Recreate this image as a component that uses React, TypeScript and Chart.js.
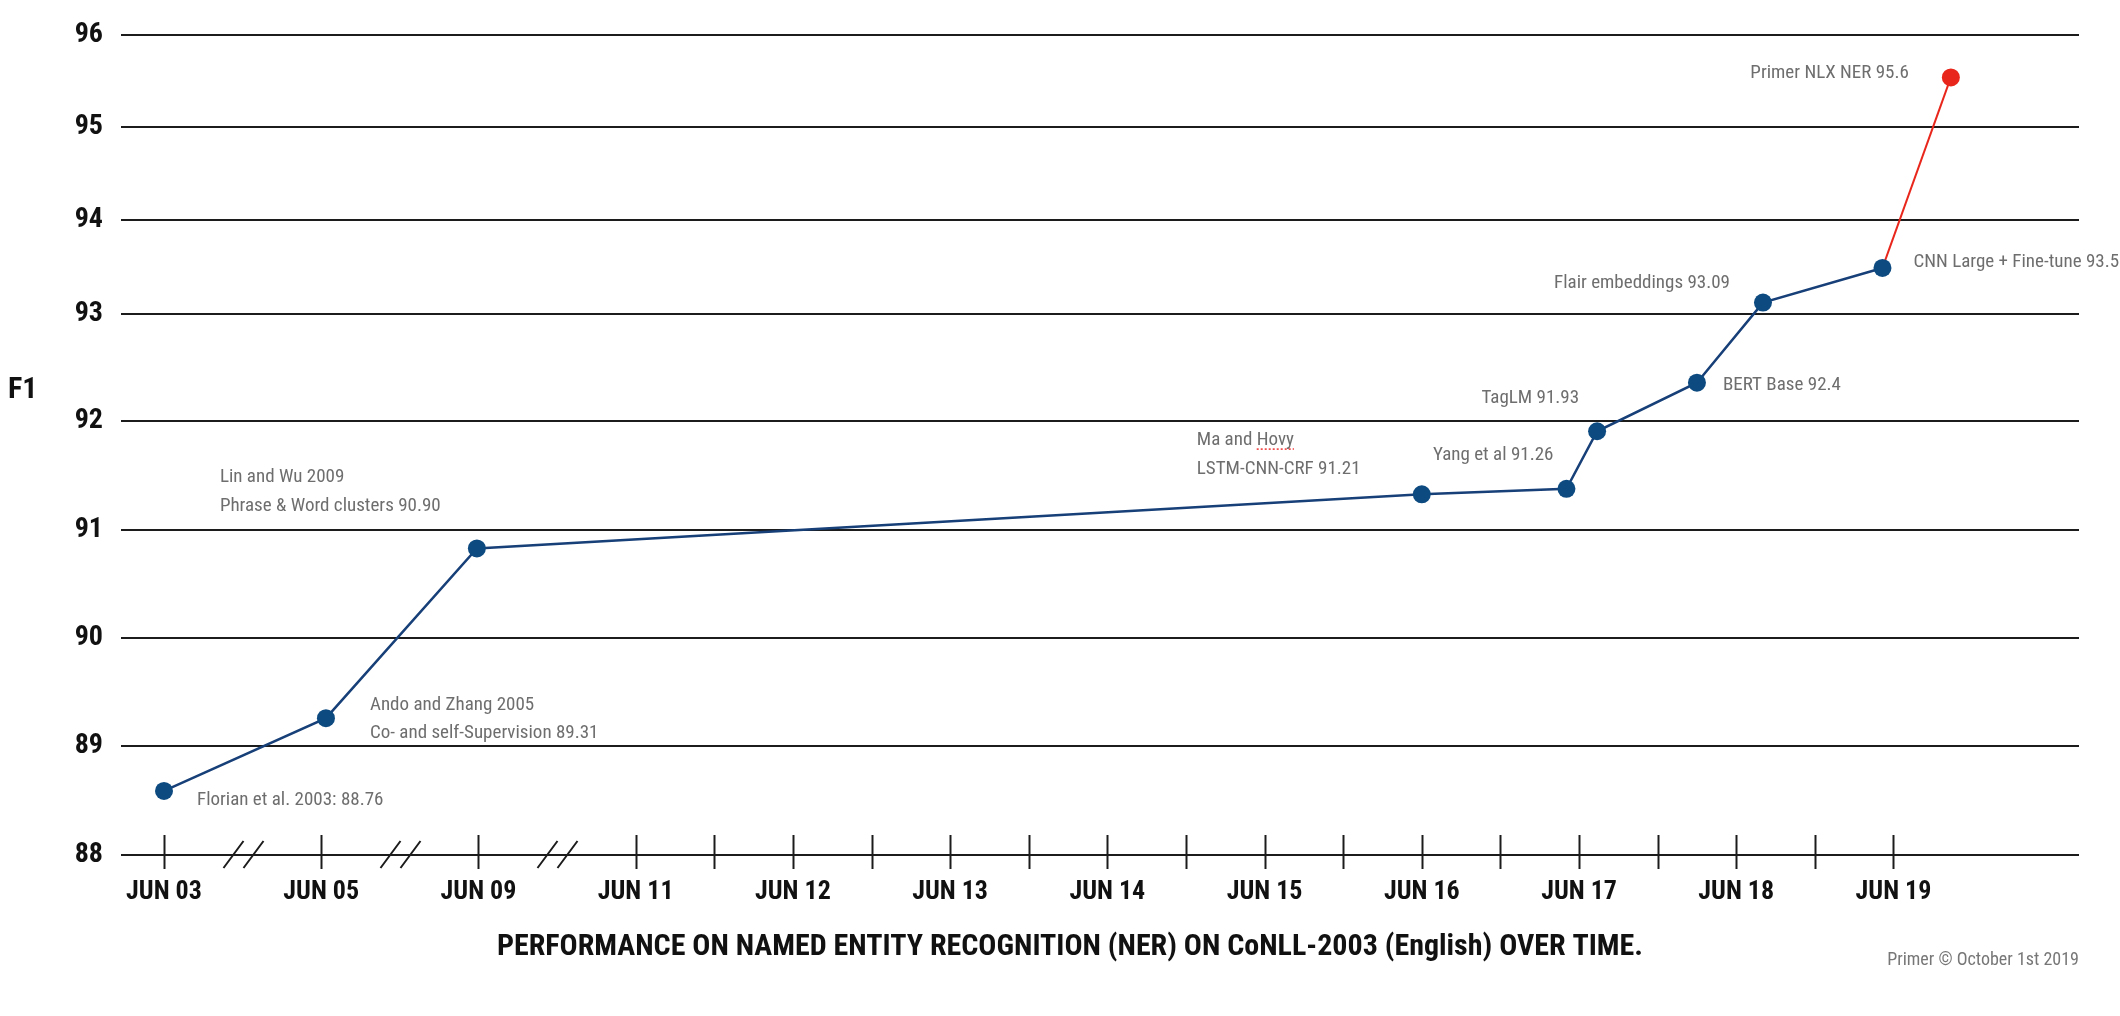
import React, { useEffect, useRef } from 'react';
import { Chart, registerables, LinearScale } from 'chart.js';

// ---------- data ----------
const Y_TICKS = [88, 89, 90, 91, 92, 93, 94, 95, 96];
// relative height of each 1-point band (the source axis is drawn unevenly)
const Y_BAND_SIZES = [109, 109, 108, 109, 108, 94, 93, 93];

// x axis: half-year steps on a compressed timeline, JUN 03 = 0
const X_MIN = -0.547;
const X_MAX = 24.36;
const X_TICK_INDEX = [0, 1, 2, 3, 4, 5, 6, 7, 8, 9, 10, 11, 12, 13, 14, 15, 16, 17, 18, 19, 20, 21, 22];
const X_BREAK_INDEX = [1, 3, 5];
const X_LABEL_INDEX = [0, 2, 4, 6, 8, 10, 12, 14, 16, 18, 20, 22];
const X_LABELS = ['JUN 03', 'JUN 05', 'JUN 09', 'JUN 11', 'JUN 12', 'JUN 13', 'JUN 14', 'JUN 15', 'JUN 16', 'JUN 17', 'JUN 18', 'JUN 19'];

const SOTA_X = [0, 2.06, 3.98, 16.0, 17.84, 18.23, 19.5, 20.34, 21.86];
const SOTA_F1 = [88.59, 89.26, 90.83, 91.33, 91.38, 91.91, 92.36, 93.12, 93.49];
const SOTA_LABELS = [
  ['Florian et al. 2003: 88.76'],
  ['Ando and Zhang 2005', 'Co- and self-Supervision 89.31'],
  ['Lin and Wu 2009', 'Phrase & Word clusters 90.90'],
  ['Ma and Hovy', 'LSTM-CNN-CRF 91.21'],
  ['Yang et al 91.26'],
  ['TagLM 91.93'],
  ['BERT Base 92.4'],
  ['Flair embeddings 93.09'],
  ['CNN Large + Fine-tune 93.5'],
];
const PRIMER_X = 22.73;
const PRIMER_F1 = 95.54;
const PRIMER_LABEL = 'Primer NLX NER 95.6';

const Y_TITLE = 'F1';
const CHART_TITLE = 'PERFORMANCE ON NAMED ENTITY RECOGNITION (NER) ON CoNLL-2003 (English) OVER TIME.';
const CREDIT = 'Primer \u00A9 October 1st 2019';

// ---------- layout / style ----------
const LABEL_LAYOUT: { dx: number; dy: number; align: CanvasTextAlign }[] = [
  { dx: 33, dy: 7, align: 'left' },
  { dx: 44, dy: -15, align: 'left' },
  { dx: -257, dy: -73, align: 'left' },
  { dx: -225, dy: -56, align: 'left' },
  { dx: -13, dy: -36, align: 'right' },
  { dx: -18, dy: -35, align: 'right' },
  { dx: 26, dy: 0, align: 'left' },
  { dx: -33, dy: -21, align: 'right' },
  { dx: 31, dy: -8, align: 'left' },
];
const PRIMER_LAYOUT = { dx: -42, dy: -6, align: 'right' as CanvasTextAlign };

const FONT = "'Liberation Sans Narrow', 'Roboto Condensed', 'DejaVu Sans Condensed', 'Liberation Sans', sans-serif";
const BLUE_LINE = '#173f78';
const BLUE_POINT = '#0d4a80';
const RED = '#e8261b';
const GRID = '#1c1c1c';
const NOTE = '#6e6e6e';

// ---------- banded (piecewise-linear) value scale ----------
function valueToDecimal(v: number): number {
  const total = Y_BAND_SIZES.reduce((a, b) => a + b, 0);
  let acc = 0;
  for (let i = 0; i < Y_BAND_SIZES.length; i++) {
    const a = Y_TICKS[i];
    const b = Y_TICKS[i + 1];
    if (v <= b || i === Y_BAND_SIZES.length - 1) {
      acc += ((v - a) * Y_BAND_SIZES[i]) / (b - a);
      return acc / total;
    }
    acc += Y_BAND_SIZES[i];
  }
  return acc / total;
}
function decimalToValue(d: number): number {
  const total = Y_BAND_SIZES.reduce((a, b) => a + b, 0);
  let t = d * total;
  for (let i = 0; i < Y_BAND_SIZES.length; i++) {
    if (t <= Y_BAND_SIZES[i] || i === Y_BAND_SIZES.length - 1) {
      return Y_TICKS[i] + (t / Y_BAND_SIZES[i]) * (Y_TICKS[i + 1] - Y_TICKS[i]);
    }
    t -= Y_BAND_SIZES[i];
  }
  return Y_TICKS[Y_TICKS.length - 1];
}

class BandedScale extends LinearScale {
  static id = 'banded';
  static defaults = LinearScale.defaults;
  getPixelForValue(value: number) {
    if (value === null || value === undefined || isNaN(value)) return NaN;
    return this.getPixelForDecimal(valueToDecimal(value));
  }
  getValueForPixel(pixel: number) {
    return decimalToValue(this.getDecimalForPixel(pixel));
  }
}

Chart.register(...registerables, BandedScale as any);

const decor = {
  id: 'decor',
  afterDraw(chart: any) {
    const { ctx, chartArea } = chart;
    const x = chart.scales.x;
    const y = chart.scales.y;
    const axisY = y.getPixelForValue(Y_TICKS[0]);
    ctx.save();

    // tick marks and axis breaks
    ctx.strokeStyle = GRID;
    ctx.lineWidth = 2;
    X_TICK_INDEX.forEach((k) => {
      const px = Math.round(x.getPixelForValue(k)) + 0.5;
      ctx.beginPath();
      if (X_BREAK_INDEX.includes(k)) {
        for (const off of [-10, 10]) {
          ctx.moveTo(px + off - 10, axisY + 13);
          ctx.lineTo(px + off + 10, axisY - 14);
        }
      } else {
        ctx.moveTo(px, axisY - 20);
        ctx.lineTo(px, axisY + 14);
      }
      ctx.stroke();
    });

    // point annotations
    const noteSize = 19;
    ctx.font = `${noteSize}px ${FONT}`;
    ctx.fillStyle = NOTE;
    ctx.textBaseline = 'alphabetic';
    const drawNote = (lines: string[], px: number, py: number, lay: { dx: number; dy: number; align: CanvasTextAlign }) => {
      ctx.textAlign = lay.align;
      lines.forEach((t, j) => {
        ctx.fillText(t, px + lay.dx, py + lay.dy + j * 28.5 + 0.36 * noteSize);
      });
    };
    SOTA_LABELS.forEach((lines, i) => {
      const px = x.getPixelForValue(SOTA_X[i]);
      const py = y.getPixelForValue(SOTA_F1[i]);
      drawNote(lines, px, py, LABEL_LAYOUT[i]);
      if (lines[0] === 'Ma and Hovy') {
        // spell-check squiggle under "Hovy"
        const lx = px + LABEL_LAYOUT[i].dx;
        const startX = lx + ctx.measureText('Ma and ').width;
        const w = ctx.measureText('Hovy').width;
        const by = py + LABEL_LAYOUT[i].dy + 0.36 * noteSize + 4;
        ctx.save();
        ctx.strokeStyle = '#e33';
        ctx.lineWidth = 1.5;
        ctx.setLineDash([2, 2]);
        ctx.beginPath();
        ctx.moveTo(startX, by);
        ctx.lineTo(startX + w, by);
        ctx.stroke();
        ctx.restore();
      }
    });
    drawNote([PRIMER_LABEL], x.getPixelForValue(PRIMER_X), y.getPixelForValue(PRIMER_F1), PRIMER_LAYOUT);

    // y title
    ctx.fillStyle = '#111';
    ctx.textAlign = 'left';
    ctx.font = `bold 30px ${FONT}`;
    ctx.fillText(Y_TITLE, 8, 398);

    // chart title
    ctx.textAlign = 'center';
    ctx.font = `bold 30px ${FONT}`;
    ctx.fillText(CHART_TITLE, (chartArea.left + chartArea.right) / 2 - 30, 955);

    // credit
    ctx.textAlign = 'right';
    ctx.fillStyle = '#777';
    ctx.font = `18px ${FONT}`;
    ctx.fillText(CREDIT, chartArea.right, 965);
    ctx.restore();
  },
};

export default function App() {
  const ref = useRef<HTMLCanvasElement>(null);
  useEffect(() => {
    document.body.style.margin = '0';
    const canvas = ref.current!;
    const last = SOTA_X.length - 1;
    const chart = new Chart(canvas, {
      type: 'line',
      data: {
        datasets: [
          {
            data: SOTA_X.map((xv, i) => ({ x: xv, y: SOTA_F1[i] })),
            borderColor: BLUE_LINE,
            borderWidth: 2.5,
            pointRadius: 9,
            pointHoverRadius: 9,
            pointBackgroundColor: BLUE_POINT,
            pointBorderWidth: 0,
            tension: 0,
          },
          {
            data: [
              { x: SOTA_X[last], y: SOTA_F1[last] },
              { x: PRIMER_X, y: PRIMER_F1 },
            ],
            borderColor: RED,
            borderWidth: 2,
            pointRadius: [0, 9],
            pointHoverRadius: [0, 9],
            pointBackgroundColor: RED,
            pointBorderWidth: 0,
            tension: 0,
          },
        ],
      },
      options: {
        animation: false,
        responsive: false,
        events: [],
        layout: { padding: { top: 32, right: 41, left: 0, bottom: 0 } },
        plugins: {
          legend: { display: false },
          tooltip: { enabled: false },
          title: { display: false },
        },
        scales: {
          x: {
            type: 'linear',
            min: X_MIN,
            max: X_MAX,
            grid: { display: false, drawTicks: false },
            border: { display: false },
            afterBuildTicks: (s: any) => {
              s.ticks = X_TICK_INDEX.map((v) => ({ value: v }));
            },
            afterFit: (s: any) => {
              s.height = 161;
            },
            ticks: {
              autoSkip: false,
              maxRotation: 0,
              minRotation: 0,
              padding: 22,
              color: '#111',
              font: { family: FONT, size: 26, weight: 'bold' },
              callback: (v: any) => {
                const i = X_LABEL_INDEX.indexOf(Number(v));
                return i >= 0 ? X_LABELS[i] : '';
              },
            },
          },
          y: {
            type: 'banded' as any,
            min: Y_TICKS[0],
            max: Y_TICKS[Y_TICKS.length - 1],
            grid: { color: GRID, lineWidth: 2, drawTicks: false },
            border: { display: false },
            afterFit: (s: any) => {
              s.width = 121;
            },
            ticks: {
              stepSize: 1,
              padding: 18,
              color: '#111',
              font: { family: FONT, size: 28, weight: 'bold' },
            },
          },
        },
      } as any,
      plugins: [decor],
    });
    return () => chart.destroy();
  }, []);
  return (
    <div style={{ width: 2120, height: 1016, background: '#fff' }}>
      <canvas ref={ref} width={2120} height={1016} />
    </div>
  );
}
